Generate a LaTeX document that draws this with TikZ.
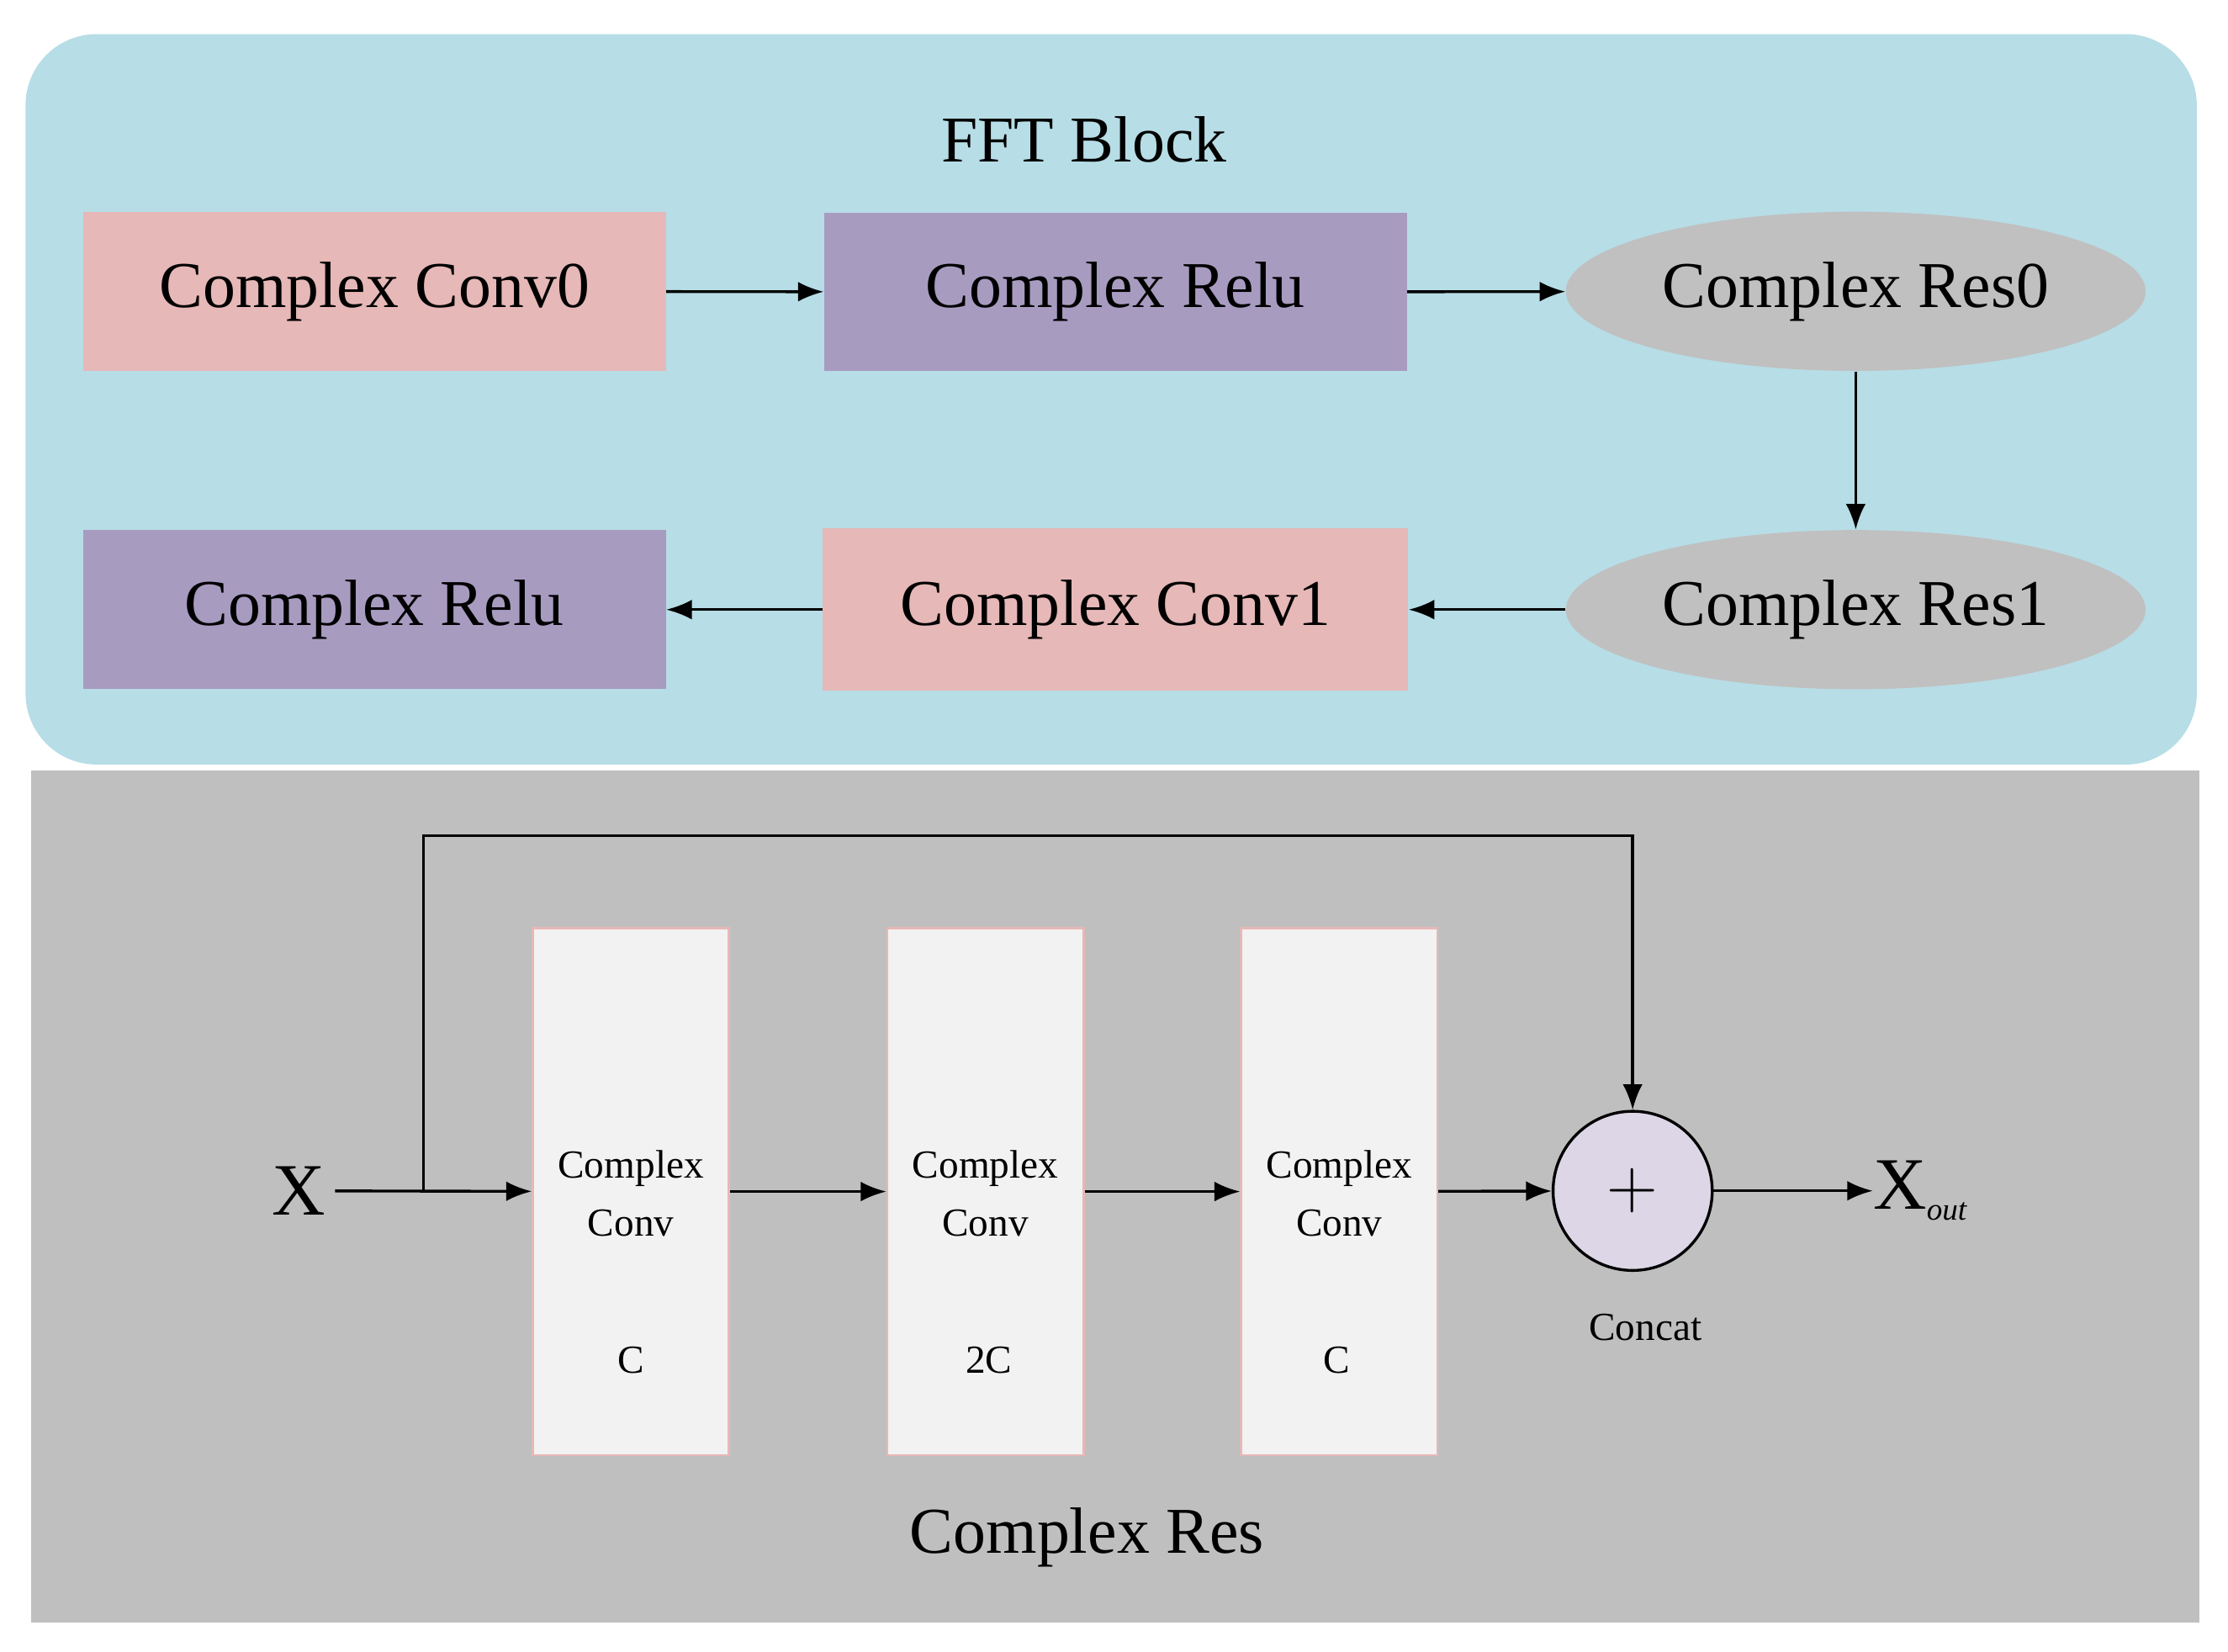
\documentclass[tikz,border=0pt]{standalone}
\usepackage{fontspec}
\setmainfont{Liberation Serif}
\usetikzlibrary{arrows.meta,shapes.geometric}
\definecolor{bluebg}{RGB}{183,221,230}
\definecolor{graybg}{RGB}{191,191,191}
\definecolor{pinkb}{RGB}{230,184,183}
\definecolor{purpb}{RGB}{168,155,192}
\definecolor{ellg}{RGB}{192,192,192}
\definecolor{boxf}{RGB}{242,242,242}
\definecolor{circf}{RGB}{221,214,230}
\begin{document}
\begin{tikzpicture}[x=0.5pt,y=-0.5pt,
  big/.style={font=\fontsize{23}{26}\selectfont},
  blk/.style={draw=none,minimum width=205pt,minimum height=56pt,inner sep=0pt,big},
  ell/.style={ellipse,fill=ellg,minimum width=204pt,minimum height=56pt,inner sep=0pt,big},
  cv/.style={fill=boxf,draw=pinkb,line width=0.8pt,minimum width=69pt,minimum height=185.5pt,inner sep=0pt},
  arr/.style={-{Latex[length=9pt,width=7pt]},line width=1pt},
  sm/.style={font=\fontsize{14}{16}\selectfont}]
\useasboundingbox (0,0) rectangle (1568,1162);
\fill[bluebg,rounded corners=25pt] (18,24) rectangle (1546,538);
\fill[graybg] (22,542) rectangle (1548,1142);
\node[big] (t1) at (763,98) {FFT Block};
\node[blk,fill=pinkb] (c0) at (263.5,205) {Complex Conv0};
\node[blk,fill=purpb,minimum height=55.5pt] (r1) at (785,205.5) {Complex Relu};
\node[ell] (s0) at (1306,205) {Complex Res0};
\node[ell] (s1) at (1306,429) {Complex Res1};
\node[blk,fill=pinkb,minimum width=206pt,minimum height=57pt] (c1) at (785,429) {Complex Conv1};
\node[blk,fill=purpb] (r2) at (263.5,429) {Complex Relu};
\draw[arr] (c0) -- (r1);
\draw[arr] (r1) -- (s0);
\draw[arr] (s0) -- (s1);
\draw[arr] (s1) -- (c1);
\draw[arr] (c1) -- (r2);
% bottom
\node[font=\fontsize{26}{28}\selectfont] (x) at (210,838) {X};
\node[cv] (b1) at (444,838.5) {};
\node[cv] (b2) at (693.5,838.5) {};
\node[cv] (b3) at (942.5,838.5) {};
\foreach \b/\c/\lab in {b1/444/C,b2/696/2C,b3/941/C}{
  \node[sm] at (\b.center) [yshift=8pt] {Complex};
  \node[sm] at (\b.center) [yshift=-11pt] {Conv};
  \node[sm] at (\c,957) {\lab};
}
\node[circle,draw,line width=1pt,fill=circf,minimum size=56pt,inner sep=0pt,font=\fontsize{26}{28}\selectfont] (p) at (1149,838) {$+$};
\node[sm] (cc) at (1158,934) {Concat};
\node[font=\fontsize{26}{28}\selectfont,anchor=west,inner sep=0pt] (xo) at (1318,838) {X\textsubscript{\fontsize{11}{12}\selectfont\itshape out}};
\node[big] (t2) at (765,1082) {Complex Res};
\coordinate (j) at (298,838);
\draw[arr] (x) -- (b1);
\draw[arr] (b1) -- (b2);
\draw[arr] (b2) -- (b3);
\draw[arr] (b3) -- (p);
\draw[arr] (p) -- (xo);
\draw[arr] (j) -- (298,588) -- (1149,588) -- (p);
\end{tikzpicture}
\end{document}
